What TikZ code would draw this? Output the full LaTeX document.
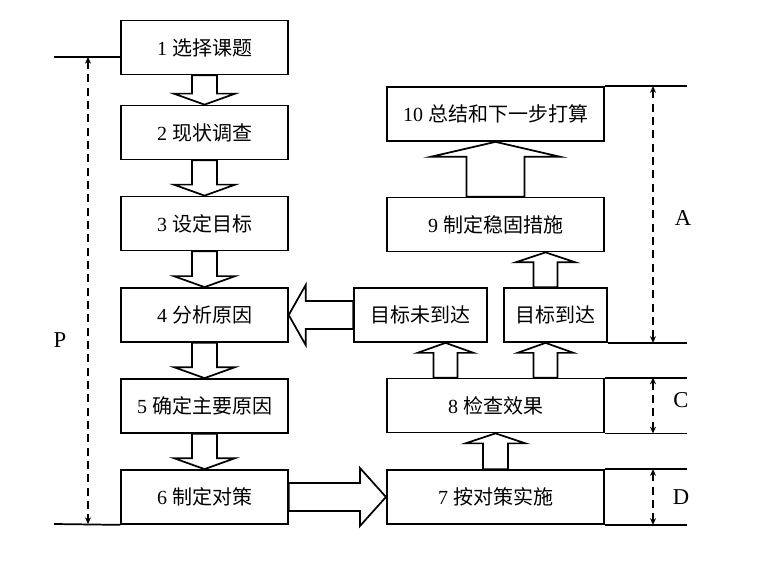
\documentclass[tikz,border=0pt]{standalone}
\usepackage{fontspec}
\setmainfont{Liberation Serif}
\newfontfamily\cjk{Noto Sans CJK SC}
\usetikzlibrary{calc,arrows.meta}

% hollow block arrow: from, to, shaft half width, head half width, head length
\newcommand{\fatarrow}[5]{%
  \coordinate (fa-h) at ($(#2)!#5!(#1)$);
  \draw[fatarr] ($(#1)!#3!90:(#2)$) -- ($(fa-h)!#3!90:(#2)$) -- ($(fa-h)!#4!90:(#2)$) -- (#2)
    -- ($(fa-h)!#4!-90:(#2)$) -- ($(fa-h)!#3!-90:(#2)$) -- ($(#1)!#3!-90:(#2)$) -- cycle;}

\tikzset{
  box/.style={draw, line width=1.3pt, fill=white, inner sep=0pt,
    minimum height=40.5pt, font=\fontsize{15}{17}\selectfont},
  lbox/.style={box, minimum width=125pt},
  rbox/.style={box, minimum width=163pt},
  fatarr/.style={line width=1.3pt, fill=white, line join=miter},
  rule/.style={line width=1.3pt},
  dimline/.style={line width=0.9pt, dash pattern=on 6pt off 4pt,
    {Stealth[length=5pt,width=4.5pt]}-{Stealth[length=5pt,width=4.5pt]}},
  side/.style={font=\fontsize{17}{19}\selectfont}
}

\begin{document}
\begin{tikzpicture}[x=0.75pt,y=-0.75pt]
\useasboundingbox (0,0) rectangle (760,570);

% Left column
\node[lbox] (b1) at (204.5,47.5) {1 {\cjk 选择课题}};
\node[lbox] (b2) at (204.5,132.5) {2 {\cjk 现状调查}};
\node[lbox] (b3) at (204.5,223.5) {3 {\cjk 设定目标}};
\node[lbox] (b4) at (204.5,315) {4 {\cjk 分析原因}};
\node[lbox] (b5) at (204.5,406) {5 {\cjk 确定主要原因}};
\node[lbox] (b6) at (204.5,497) {6 {\cjk 制定对策}};

% Right column
\node[rbox] (b10) at (495.5,114) {10 {\cjk 总结和下一步打算}};
\node[rbox] (b9) at (495.5,224.5) {9 {\cjk 制定稳固措施}};
\node[box, minimum width=99.75pt] (miss) at (420.5,315) {\cjk 目标未到达};
\node[box, minimum width=77.25pt] (reach) at (555.5,315) {\cjk 目标到达};
\node[rbox] (b8) at (495.5,405.5) {8 {\cjk 检查效果}};
\node[rbox] (b7) at (495.5,497) {7 {\cjk 按对策实施}};

% Block arrows
\fatarrow{b1.south}{b2.north}{9.4pt}{23pt}{8.25pt}
\fatarrow{b2.south}{b3.north}{9.4pt}{23pt}{8.25pt}
\fatarrow{b3.south}{b4.north}{9.4pt}{23pt}{8.25pt}
\fatarrow{b4.south}{b5.north}{9.4pt}{23pt}{8.25pt}
\fatarrow{b5.south}{b6.north}{9.4pt}{23pt}{8.25pt}
\fatarrow{b6.east}{b7.west}{10.5pt}{21.75pt}{19.5pt}
\fatarrow{miss.west}{b4.east}{10.5pt}{22.5pt}{12.75pt}
\fatarrow{b7.north}{b8.south}{9.4pt}{22.5pt}{7.5pt}
\coordinate (u1) at ($(b8.north)+(-50,0)$);
\coordinate (v1) at (u1 |- miss.south);
\coordinate (u2) at ($(b8.north)+(50,0)$);
\coordinate (v2) at (u2 |- reach.south);
\coordinate (t2) at (u2 |- reach.north);
\coordinate (w2) at (u2 |- b9.south);
\fatarrow{u1}{v1}{9pt}{21pt}{7.5pt}
\fatarrow{u2}{v2}{9pt}{21pt}{7.5pt}
\fatarrow{t2}{w2}{9pt}{22.5pt}{7.5pt}
\fatarrow{b9.north}{b10.south}{21.75pt}{48.75pt}{11.25pt}

% Left rules and P
\coordinate (pt) at (54,57);
\coordinate (pb) at (54,524);
\coordinate (p1) at (88,57);
\coordinate (p2) at (88,524);
\draw[rule] (pt) -- (pt -| b1.west);
\draw[rule] (pb) -- (b6.south west);
\draw[dimline] (p1) -- (p2);
\node[side] (lp) at (60,340) {P};

% Right rules and A, C, D
\coordinate (r1) at (687,0);
\coordinate (d) at (653,0);
\draw[rule] (b10.north east) -- (b10.north east -| r1);
\draw[rule] (reach.south east) -- (reach.south east -| r1);
\draw[rule] (b8.north east) -- (b8.north east -| r1);
\draw[rule] (b8.south east) -- (b8.south east -| r1);
\draw[rule] (b7.north east) -- (b7.north east -| r1);
\draw[rule] (b7.south east) -- (b7.south east -| r1);
\draw[dimline] (b10.north east -| d) -- (reach.south east -| d);
\draw[dimline] (b8.north east -| d) -- (b8.south east -| d);
\draw[dimline] (b7.north east -| d) -- (b7.south east -| d);
\node[side] (la) at (683,218) {A};
\node[side] (lc) at (681,400) {C};
\node[side] (ld) at (681,497) {D};
\end{tikzpicture}
\end{document}
